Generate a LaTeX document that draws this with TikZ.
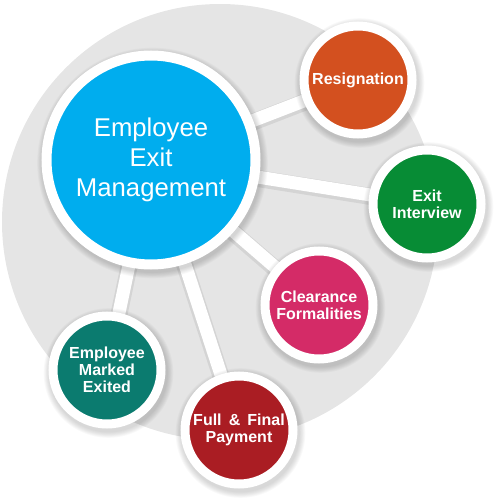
\documentclass[tikz,border=0pt]{standalone}
\usepackage{fontspec}
\setmainfont{Liberation Sans}
\definecolor{bggray}{HTML}{E5E5E5}
\definecolor{cblue}{HTML}{00ADEE}
\definecolor{corange}{HTML}{D3501F}
\definecolor{cgreen}{HTML}{078C35}
\definecolor{cpink}{HTML}{D42B67}
\definecolor{cteal}{HTML}{0B7B6F}
\definecolor{cred}{HTML}{AA1D23}
\tikzset{
  bigbubble/.style={circle, fill=#1, draw=white, line width=10pt, minimum size=209pt, inner sep=0pt,
    text=white, align=center, font=\fontsize{25.7}{30}\selectfont},
  bubble/.style={circle, fill=#1, draw=white, line width=9pt, minimum size=108pt, inner sep=0pt,
    text=white, align=center, font=\bfseries\fontsize{16}{16.8}\selectfont},
  barshade/.style={line width=17pt, draw=black, opacity=0.07},
  bar/.style={line width=13pt, draw=white},
}
\newcommand{\softshadow}[2]{%
  \foreach \k in {1,...,7}{\fill[black, opacity=0.025] ($(#1)+(1.5,3)$) circle ({#2+\k*0.9});}}
\usetikzlibrary{calc}
\begin{document}
\begin{tikzpicture}[x=1pt,y=-1pt]
\useasboundingbox (0,0) rectangle (497,500);
\fill[bggray] (220,222) circle (218);
\coordinate (cM) at (151,160);
\coordinate (cR) at (358,80);
\coordinate (cE) at (427,204);
\coordinate (cC) at (319,305);
\coordinate (cK) at (107,370);
\coordinate (cF) at (239,430);
\foreach \t in {cR,cE,cC,cK,cF}{\draw[barshade] ($(cM)+(0,1.5)$) -- ($(\t)+(0,1.5)$);}
\foreach \t in {cR,cE,cC,cK,cF}{\draw[bar] (cM) -- (\t);}
\softshadow{cM}{109}
\softshadow{cR}{58.5}
\softshadow{cE}{58.5}
\softshadow{cC}{58.5}
\softshadow{cK}{58.5}
\softshadow{cF}{58.5}
\node[bigbubble=cblue] (main) at (cM) {Employee\\Exit\\Management};
\node[bubble=corange] (res) at (cR) {Resignation};
\node[bubble=cgreen] (exit) at (cE) {Exit\\Interview};
\node[bubble=cpink] (clr) at (cC) {Clearance\\Formalities};
\node[bubble=cteal] (mark) at (cK) {Employee\\Marked\\Exited};
\node[bubble=cred] (pay) at (cF) {Full\, \&\, Final\\Payment};
\end{tikzpicture}
\end{document}
